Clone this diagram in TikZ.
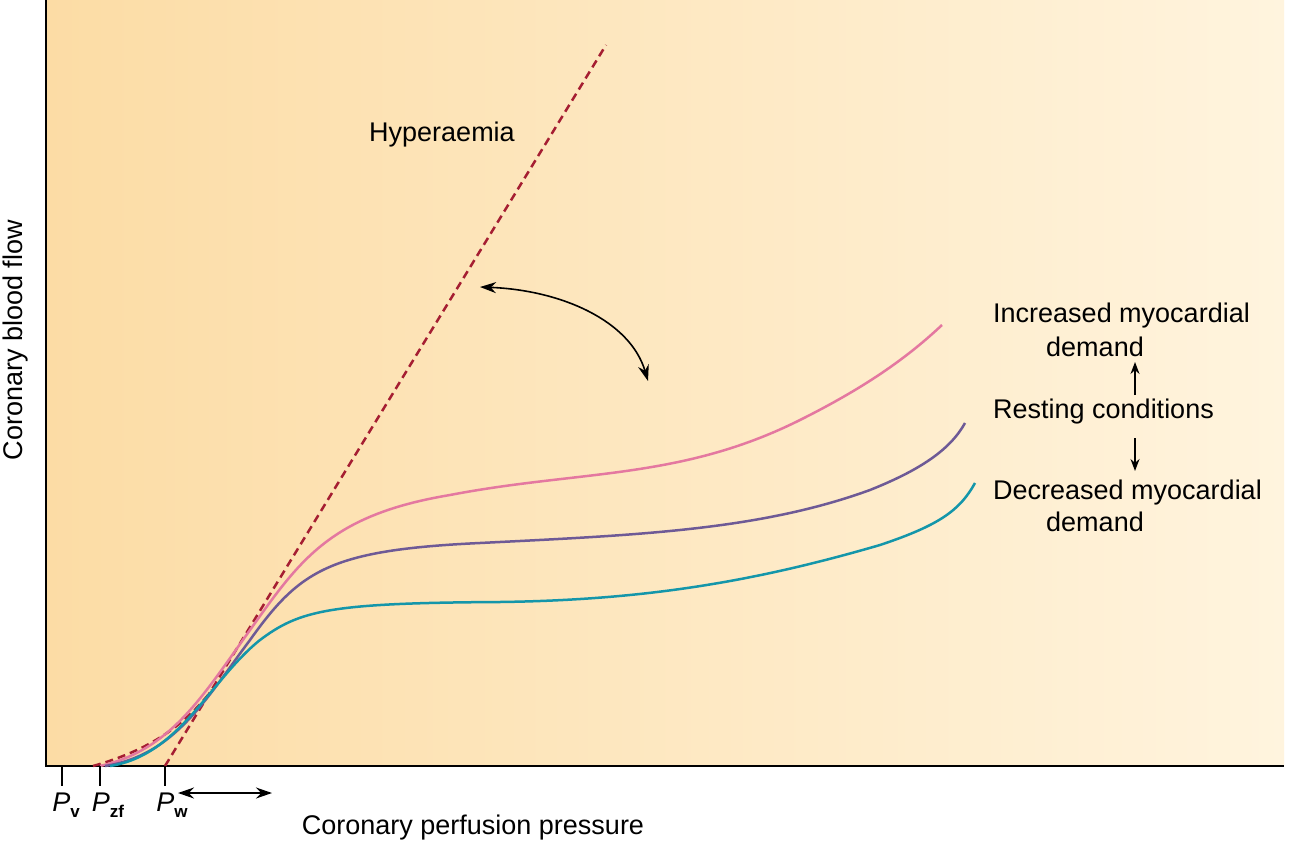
\documentclass[tikz,border=0pt]{standalone}
\usepackage{fontspec}
\setmainfont{Liberation Sans}
\usetikzlibrary{arrows.meta}
\definecolor{bgA}{RGB}{252,220,165}
\definecolor{bgB}{RGB}{255,244,222}
\definecolor{pinkc}{RGB}{228,120,160}
\definecolor{purc}{RGB}{110,90,150}
\definecolor{tealc}{RGB}{20,150,170}
\definecolor{hypc}{RGB}{165,30,50}
\begin{document}
\begin{tikzpicture}[x=1pt,y=-1pt,
  lbl/.style={font=\fontsize{27}{30}\selectfont,inner sep=0pt},
  curve/.style={line width=2.5pt},
  tick/.style={line width=1.5pt},
  arr/.style={line width=1.6pt,{Stealth[length=16pt,width=11pt]}-{Stealth[length=16pt,width=11pt]}}]
\useasboundingbox (0,0) rectangle (1299,848);
\fill[white] (0,0) rectangle (1299,848);
\shade[left color=bgA,right color=bgB] (46,0) rectangle (1284,766);
% axes
\draw[line width=1.8pt] (46,0) -- (46,766) -- (1284,766);
% hyperaemia
\draw[hypc,line width=2.5pt,dash pattern=on 8pt off 5pt] (93,766) .. controls (150,750) and (185,725) .. (212,690);
\draw[hypc,line width=2.5pt,dash pattern=on 8pt off 5pt] (165,766) -- (606,45);
% curves
\draw[curve,pinkc] (100,766) .. controls (170,750) and (200,700) .. (250,630) .. controls (300,560) and (330,515) .. (450,495) .. controls (580,470) and (680,480) .. (800,420) .. controls (870,385) and (910,355) .. (942,325);
\draw[curve,purc] (105,766) .. controls (175,755) and (205,700) .. (250,640) .. controls (300,570) and (330,550) .. (480,543) .. controls (640,535) and (760,530) .. (870,490) .. controls (920,470) and (950,450) .. (965,423);
\draw[curve,tealc] (110,766) .. controls (180,755) and (210,680) .. (260,640) .. controls (300,610) and (330,603) .. (500,602) .. controls (650,600) and (760,580) .. (880,545) .. controls (940,525) and (960,510) .. (975,483);
% texts
\node[lbl] (hyp) at (442,135) {Hyperaemia};
\node[lbl,anchor=west] (inc) at (993,316) {Increased myocardial};
\node[lbl] (incd) at (1095,347) {demand};
\node[lbl,anchor=west] (rest) at (993,412) {Resting conditions};
\node[lbl,anchor=west] (dec) at (993,493) {Decreased myocardial};
\node[lbl] (decd) at (1095,522) {demand};
\node[lbl,rotate=90] (ylab) at (16,340) {Coronary blood flow};
\node[lbl] (xlab) at (473,828) {Coronary perfusion pressure};
\coordinate (ua) at (1135,362); \coordinate (ub) at (1135,395);
\coordinate (da) at (1135,438); \coordinate (db) at (1135,471);
\draw[line width=1.5pt,-{Stealth[length=12pt,width=9pt]}] (ub) -- (ua);
\draw[line width=1.5pt,-{Stealth[length=12pt,width=9pt]}] (da) -- (db);
\coordinate (ca) at (480,287); \coordinate (cb) at (648,381);
\draw[arr] (ca) .. controls (560,290) and (630,320) .. (cb);
% ticks
\coordinate (pv) at (62,766); \coordinate (pz) at (100,766); \coordinate (pw) at (165,766);
\draw[tick] (pv) -- ++(0,20); \draw[tick] (pz) -- ++(0,20); \draw[tick] (pw) -- ++(0,20);
\node[lbl] (lv) at (66,805) {\itshape P\raisebox{-6pt}{\fontsize{17}{17}\selectfont\upshape\bfseries v}};
\node[lbl] (lz) at (108,805) {\itshape P\raisebox{-6pt}{\fontsize{17}{17}\selectfont\upshape\bfseries zf}};
\node[lbl] (lw) at (172,805) {\itshape P\raisebox{-6pt}{\fontsize{17}{17}\selectfont\upshape\bfseries w}};
\coordinate (aa) at (178,793); \coordinate (ab) at (272,793);
\draw[arr] (aa) -- (ab);
\end{tikzpicture}
\end{document}
